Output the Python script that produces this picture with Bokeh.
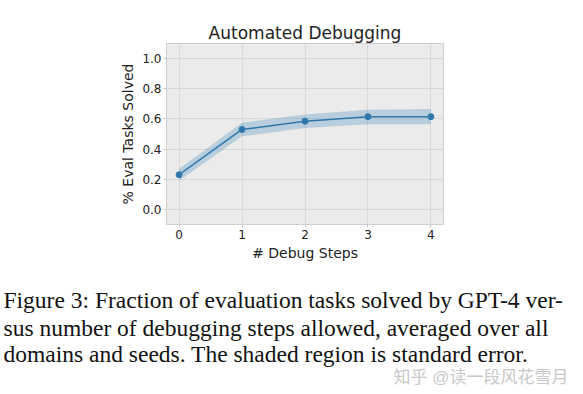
from bokeh.plotting import figure
from bokeh.models import Range1d, ColumnDataSource, Title
from bokeh.embed import file_html
from bokeh.resources import INLINE

steps = [0, 1, 2, 3, 4]
solved = [0.23, 0.53, 0.585, 0.615, 0.615]
lower = [0.19, 0.485, 0.54, 0.565, 0.565]
upper = [0.27, 0.575, 0.63, 0.66, 0.665]
y_ticks = [0.0, 0.2, 0.4, 0.6, 0.8, 1.0]
title_text = "Automated Debugging"
x_label = "# Debug Steps"
y_label = "% Eval Tasks Solved"
caption_lines = [
    "Figure 3: Fraction of evaluation tasks solved by GPT-4 ver-",
    "sus number of debugging steps allowed, averaged over all",
    "domains and seeds. The shaded region is standard error.",
]
watermark = "知乎 @读一段风花雪月"

p = figure(width=583, height=394, output_backend="svg", toolbar_location=None,
           x_range=Range1d(-0.2, 4.2), y_range=Range1d(-0.1, 1.1),
           min_border_left=166, min_border_right=140, min_border_top=43,
           min_border_bottom=170)
p.background_fill_color = "#ebebeb"
p.border_fill_color = "white"
p.outline_line_color = "#d0d0d0"
p.outline_line_width = 1

p.title = Title(text=title_text, align="center", text_font="DejaVu Sans",
                text_font_size="17px", text_font_style="normal", text_color="#222222",
                standoff=2)

src = ColumnDataSource(dict(x=steps, y=solved, lo=lower, hi=upper))
p.varea(x="x", y1="lo", y2="hi", source=src, fill_color="#1f77b4", fill_alpha=0.25)
p.line(x="x", y="y", source=src, line_color="#2f78ad", line_width=1.5)
p.scatter(x="x", y="y", source=src, size=6, fill_color="#2f78ad", line_color="#2f78ad")

for ax in (p.xaxis, p.yaxis):
    ax.axis_line_color = None
    ax.major_tick_out = 3
    ax.major_tick_in = 0
    ax.minor_tick_out = 0
    ax.minor_tick_in = 0
    ax.major_tick_line_color = "#c8c8c8"
    ax.major_label_text_font = "DejaVu Sans"
    ax.major_label_text_font_size = "12px"
    ax.major_label_text_color = "#222222"
    ax.axis_label_text_font = "DejaVu Sans"
    ax.axis_label_text_font_size = "14px"
    ax.axis_label_text_font_style = "normal"
    ax.axis_label_text_color = "#222222"
    ax.axis_label_standoff = 3
    ax.major_label_standoff = 2

p.xaxis.ticker = steps
p.yaxis.ticker = y_ticks
p.yaxis.major_label_overrides = {t: f"{t:.1f}" for t in y_ticks}
p.xaxis.axis_label = x_label
p.yaxis.axis_label = y_label

p.xgrid.ticker = steps
p.ygrid.ticker = y_ticks
p.grid.grid_line_color = "#d8d8d8"
p.grid.grid_line_width = 1

# spacer between axis and caption
p.add_layout(Title(text=" ", text_font_size="1px", standoff=18), "below")
# caption lines as titles below the x axis
for i, line in enumerate(caption_lines):
    p.add_layout(Title(text=line, align="left", offset=-163,
                       text_font="Liberation Serif", text_font_size="23.5px",
                       text_font_style="normal", text_color="#111111",
                       text_line_height=1.0, standoff=(-3 if i == 2 else 0)), "below")
p.add_layout(Title(text=watermark, align="right", offset=-125,
                   text_font="Liberation Sans, Noto Sans CJK SC", text_font_size="17px",
                   text_font_style="normal", text_color="#c8c8c8",
                   standoff=0), "below")

open("out.html", "w").write(file_html(p, INLINE))
